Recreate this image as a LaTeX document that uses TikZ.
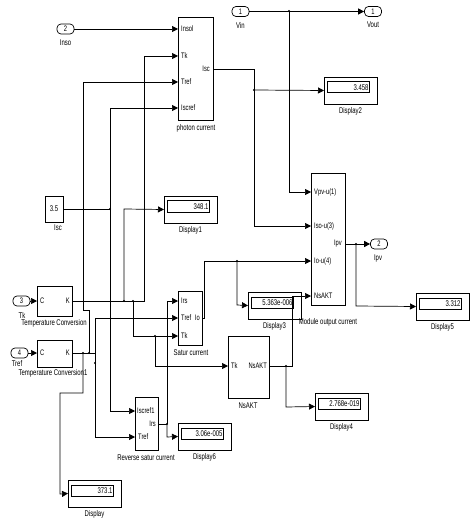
\documentclass[tikz,border=0pt]{standalone}
\usepackage{fontspec}
\setmainfont[FakeStretch=0.72]{Liberation Sans}
\usetikzlibrary{arrows.meta}
\tikzset{
  blk/.style={draw, line width=0.7pt, inner sep=0pt, anchor=north west},
  port/.style={draw, line width=0.7pt, rounded corners=4pt, inner sep=0pt, minimum width=17pt, minimum height=10pt, font=\fontsize{8}{9}\selectfont},
  lbl/.style={inner sep=0pt, font=\fontsize{8.3}{9}\selectfont},
  plbl/.style={inner sep=0pt, font=\fontsize{8}{9}\selectfont},
  wire/.style={draw, line width=0.7pt},
  arr/.style={-{Triangle[length=6pt,width=6pt]}}
}
\newcommand\mydisp[5]{%
  \node[blk, minimum width=53pt, minimum height=27pt] (#1) at (#2,#3) {};
  \node[blk, minimum width=42pt, minimum height=11pt] (#1v) at (#2+3,#3+4.5) {};
  \node[lbl, anchor=east] (#1t) at ([xshift=-1pt]#1v.east) {#4};
  \node[lbl] (#1l) at (#2+26.5,#3+34) {#5};
  \coordinate (#1in) at (#2,#3+13.5);
}
\begin{document}
\begin{tikzpicture}[x=1pt,y=-1pt]
\useasboundingbox (0,0) rectangle (474,521);

% ---------- ports ----------
\node[port] (inso) at (65.5,29) {2};
\node[lbl] (insol) at (65.5,43) {Inso};
\node[port] (vin) at (240.5,11.5) {1};
\node[lbl] (vinl) at (240.5,25) {Vin};
\node[port] (vout) at (373,11.5) {1};
\node[lbl] (voutl) at (373,25) {Vout};
\node[port] (ipvp) at (379,244) {2};
\node[lbl] (ipvl) at (378,259) {Ipv};
\node[port] (tkp) at (21.5,301) {3};
\node[lbl] (tkl) at (22,315) {Tk};
\node[port] (trefp) at (19.5,353) {4};
\node[lbl] (trefl) at (17,364) {Tref};

% ---------- photon current ----------
\node[blk, minimum width=35pt, minimum height=103pt] (photon) at (178,17) {};
\node[plbl, anchor=west] (ph1) at (181,29) {Insol};
\node[plbl, anchor=west] (ph2) at (181,56) {Tk};
\node[plbl, anchor=west] (ph3) at (181,82) {Tref};
\node[plbl, anchor=west] (ph4) at (181,108) {Iscref};
\node[plbl, anchor=east] (pho) at (210,69) {Isc};
\node[lbl] (phl) at (196,128) {photon current};
\coordinate (phInsol) at (178,29);
\coordinate (phTk) at (178,56);
\coordinate (phTref) at (178,82);
\coordinate (phIscref) at (178,108);
\coordinate (phIsc) at (213,69);

% ---------- module output current ----------
\node[blk, minimum width=34pt, minimum height=132pt] (module) at (311,173) {};
\node[plbl, anchor=west] (m1) at (314,192) {Vpv-u(1)};
\node[plbl, anchor=west] (m2) at (314,226) {Iso-u(3)};
\node[plbl, anchor=west] (m3) at (314,261) {Io-u(4)};
\node[plbl, anchor=west] (m4) at (314,296) {NsAKT};
\node[plbl, anchor=east] (mo) at (342,244) {Ipv};
\node[lbl] (ml) at (328,322) {Module output current};
\coordinate (mVpv) at (311,192);
\coordinate (mIso) at (311,226);
\coordinate (mIo) at (311,261);
\coordinate (mNs) at (311,296);
\coordinate (mIpv) at (345,244);

% ---------- satur current ----------
\node[blk, minimum width=24pt, minimum height=54pt] (satur) at (178,291) {};
\node[plbl, anchor=west] (s1) at (181,301) {Irs};
\node[plbl, anchor=west] (s2) at (181,318) {Tref};
\node[plbl, anchor=west] (s3) at (181,336) {Tk};
\node[plbl, anchor=east] (so) at (200,318) {Io};
\node[lbl] (sl) at (191,353) {Satur current};
\coordinate (sIrs) at (178,301);
\coordinate (sTref) at (178,318);
\coordinate (sTk) at (178,336);
\coordinate (sIo) at (202,318);

% ---------- NsAKT ----------
\node[blk, minimum width=41pt, minimum height=62pt] (nsakt) at (228,336) {};
\node[plbl, anchor=west] (n1) at (231,366) {Tk};
\node[plbl, anchor=east] (no) at (267,366) {NsAKT};
\node[lbl] (nl) at (248,406) {NsAKT};
\coordinate (nTk) at (228,366);
\coordinate (nOut) at (269,366);

% ---------- reverse satur current ----------
\node[blk, minimum width=23pt, minimum height=53pt] (rev) at (135,397) {};
\node[plbl, anchor=west] (r1) at (137,411) {Iscref1};
\node[plbl, anchor=west] (r2) at (138,437) {Tref};
\node[plbl, anchor=east] (ro) at (156,424) {Irs};
\node[lbl] (rl) at (146,458) {Reverse satur current};
\coordinate (rIsc) at (135,411);
\coordinate (rTref) at (135,437);
\coordinate (rIrs) at (158,424);

% ---------- temperature conversions ----------
\node[blk, minimum width=35pt, minimum height=30pt] (tc) at (37,286) {};
\node[plbl, anchor=west] (tcC) at (40,301) {C};
\node[plbl, anchor=east] (tcK) at (70,301) {K};
\node[lbl] (tcl) at (54,323) {Temperature Conversion};
\coordinate (tcIn) at (37,301);
\coordinate (tcOut) at (72,301);

\node[blk, minimum width=35pt, minimum height=27pt] (tc1) at (37,340) {};
\node[plbl, anchor=west] (tc1C) at (40,353) {C};
\node[plbl, anchor=east] (tc1K) at (70,353) {K};
\node[lbl] (tc1l) at (53,373) {Temperature Conversion1};
\coordinate (tc1In) at (37,353);
\coordinate (tc1Out) at (72,353);

% ---------- constant ----------
\node[blk, minimum width=18pt, minimum height=26pt] (isc) at (45,196) {};
\node[lbl] (isct) at (54,209) {3.5};
\node[lbl] (iscl) at (58,228) {Isc};
\coordinate (iscOut) at (63,209);

% ---------- displays ----------
\mydisp{dtwo}{324}{77}{3.458}{Display2}
\mydisp{done}{164}{196}{348.1}{Display1}
\mydisp{dthree}{248}{292}{5.363e-006}{Display3}
\mydisp{dfive}{416}{293}{3.312}{Display5}
\mydisp{dfour}{315}{393}{2.768e-019}{Display4}
\mydisp{dsix}{178}{423}{3.06e-005}{Display6}
\mydisp{dzero}{68}{480}{373.1}{Display}

% ---------- junctions ----------
\coordinate (j1) at (289,11);
\coordinate (j2) at (254,90);
\coordinate (j3) at (356,244);
\coordinate (j4) at (237,261);
\coordinate (j5) at (286,366);
\coordinate (j6) at (110,209);
\coordinate (j7) at (124,301);
\coordinate (j8) at (133,301);
\coordinate (j9) at (155,336);
\coordinate (j10) at (83,353);
\coordinate (j11) at (89,353);
\coordinate (j12) at (95,363);
\coordinate (j13) at (167,424);

% ---------- wires ----------
\draw[wire, arr] (inso.east) -- (phInsol);
\draw[wire, arr] (vin.east) -- (vout.west);
\draw[wire, arr] (j1) -- (j1 |- mVpv) -- (mVpv);
\draw[wire, arr] (phIsc) -- (254,69) -- (254,226) -- (mIso);
\draw[wire, arr] (j2) -- (dtwoin);
\draw[wire, arr] (mIpv) -- (ipvp.west);
\draw[wire, arr] (j3) -- (356,306) -- (dfivein);
\draw[wire, arr] (sIo) -- (204,318) -- (204,261) -- (mIo);
\draw[wire, arr] (j4) -- (237,305) -- (dthreein);
\draw[wire, arr] (nOut) -- (292,366) -- (292,296) -- (mNs);
\draw[wire, arr] (j5) -- (286,407) -- (dfourin);
\draw[wire] (iscOut) -- (j6);
\draw[wire, arr] (j6) -- (110,108) -- (phIscref);
\draw[wire, arr] (j6) -- (110,411) -- (rIsc);
\draw[wire, arr] (tkp.east) -- (tcIn);
\draw[wire, arr] (tcOut) -- (144,301) -- (144,56) -- (phTk);
\draw[wire, arr] (j7) -- (124,209) -- (donein);
\draw[wire, arr] (j8) -- (133,336) -- (sTk);
\draw[wire, arr] (j9) -- (155,366) -- (nTk);
\draw[wire, arr] (trefp.east) -- (tc1In);
\draw[wire] (tc1Out) -- (95,353) -- (j12);
\draw[wire, arr] (j11) -- (89,310) -- (83,310) -- (83,82) -- (phTref);
\draw[wire, arr] (j10) -- (83,393) -- (60,393) -- (60,494) -- (dzeroin);
\draw[wire, arr] (j12) -- (95,318) -- (sTref);
\draw[wire, arr] (j12) -- (95,437) -- (rTref);
\draw[wire] (rIrs) -- (j13);
\draw[wire, arr] (j13) -- (167,437) -- (dsixin);
\draw[wire, arr] (j13) -- (167,301) -- (sIrs);

% dots
\foreach \j in {j1,j2,j3,j4,j5,j6,j7,j8,j9,j10,j11,j12,j13}
  \fill (\j) circle[radius=1.2pt];
\end{tikzpicture}
\end{document}
